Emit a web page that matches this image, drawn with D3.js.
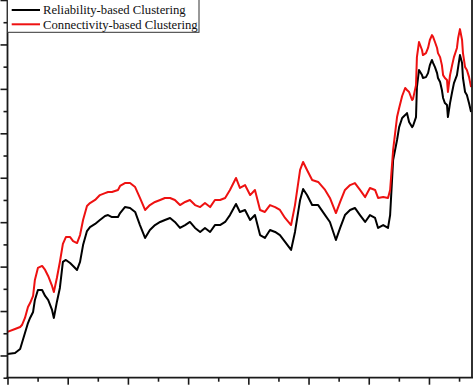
<!DOCTYPE html>
<html>
<head>
<meta charset="utf-8">
<script src="https://cdn.jsdelivr.net/npm/d3@7"></script>
<style>
html,body{margin:0;padding:0;background:#fff;}
svg{display:block;}
</style>
</head>
<body>
<svg id="chart" width="474" height="385"></svg>
<script>
const seriesNames = ["Reliability-based Clustering", "Connectivity-based Clustering"];
const seriesColors = ["#000000", "#ee1111"];

const steps = [0, 2.5, 4.2, 4.8, 5.8, 6.8, 7.5, 8.5, 9.1, 10.1,
 11.5, 12.5, 13.5, 14.8, 15.4, 16.4, 17.4, 18.4, 19.4, 20.8,
 21.8, 23.1, 24.1, 25.1, 26.4, 27.4, 29.1, 30.7, 32.4, 33.4,
 34.7, 36.7, 37.4, 39.0, 40.7, 42.4, 44.0, 45.7, 47.3, 49.0,
 50.7, 52.3, 54.0, 55.6, 57.3, 59.0, 60.6, 62.3, 64.0, 65.6,
 67.3, 68.9, 70.6, 72.3, 73.9, 75.9, 77.2, 78.9, 80.6, 82.2,
 83.9, 85.5, 87.2, 88.9, 90.5, 92.2, 94.2, 95.5, 97.2, 98.2,
 99.5, 101.2, 103.2, 105.5, 107.1, 109.1, 110.5, 112.1, 113.8, 115.4,
 117.1, 118.8, 120.4, 122.1, 123.1, 124.8, 126.4, 127.1, 128.1, 129.4,
 130.1, 131.1, 132.1, 132.7, 133.4, 134.4, 134.7, 135.7, 136.0, 136.7,
 137.7, 138.0, 139.0, 139.7, 140.3, 141.0, 141.4, 142.0, 142.7, 143.0,
 143.7, 144.3, 144.7, 145.3, 146.0, 146.3, 147.0, 147.7, 148.3, 149.3,
 149.7, 150.3, 151.0, 151.3, 152.0, 152.6, 153.3, 154.0];

const reliability = [10.7, 11.1, 12.9, 15.6, 20.1, 24.6, 26.9, 29.6, 35.0, 39.5,
 39.5, 36.8, 35.0, 30.5, 26.9, 34.1, 40.4, 52.1, 53.0, 51.6,
 50.3, 48.5, 52.1, 59.7, 66.0, 67.8, 69.2, 71.0, 72.8, 73.2,
 72.3, 72.3, 74.1, 76.8, 76.4, 74.6, 68.7, 62.9, 66.5, 68.7,
 70.1, 71.0, 71.9, 70.1, 67.4, 68.7, 70.1, 67.4, 65.6, 67.4,
 65.6, 68.7, 68.7, 70.1, 73.2, 78.2, 74.6, 75.5, 71.0, 73.2,
 64.2, 62.9, 66.5, 65.6, 64.2, 61.1, 57.5, 65.6, 80.0, 84.9,
 82.2, 77.7, 77.7, 73.2, 70.1, 62.0, 67.4, 73.2, 75.5, 76.4,
 73.2, 70.1, 73.2, 71.9, 67.4, 68.7, 67.4, 73.2, 98.0, 107.0,
 112.8, 116.9, 118.2, 119.1, 115.1, 112.8, 113.3, 117.3, 130.8, 138.5,
 136.2, 134.9, 135.3, 137.1, 140.7, 143.0, 141.6, 139.8, 137.1, 134.9,
 133.1, 129.5, 125.9, 123.6, 122.7, 117.3, 123.6, 128.6, 132.6, 136.2,
 139.8, 145.2, 141.6, 134.9, 128.6, 127.2, 123.6, 119.6];

const connectivity = [20.6, 21.9, 22.8, 23.7, 26.9, 31.8, 33.6, 36.8, 44.0, 49.4,
 50.3, 48.5, 45.8, 41.3, 38.6, 44.9, 52.1, 60.2, 63.3, 63.3,
 61.5, 60.6, 64.2, 71.0, 77.3, 78.6, 80.0, 82.2, 83.1, 83.6,
 83.6, 84.5, 86.3, 87.6, 87.6, 85.8, 80.9, 75.5, 77.7, 79.1,
 80.0, 80.9, 80.9, 80.0, 77.7, 79.1, 80.0, 77.7, 76.8, 78.6,
 76.8, 80.0, 80.0, 80.9, 84.5, 89.9, 85.4, 86.7, 82.2, 84.5,
 75.5, 74.6, 77.7, 76.8, 75.5, 71.9, 68.7, 77.7, 93.5, 97.1,
 93.5, 89.0, 88.1, 84.5, 80.9, 74.1, 79.1, 84.5, 86.7, 87.6,
 84.5, 81.3, 85.4, 84.5, 80.9, 81.3, 80.9, 84.5, 102.5, 117.3,
 121.4, 126.8, 130.4, 129.5, 128.6, 125.0, 125.4, 131.7, 144.3, 151.1,
 147.5, 145.2, 146.1, 148.4, 152.0, 154.2, 153.3, 151.1, 148.4, 146.1,
 144.3, 140.7, 136.2, 134.9, 134.0, 128.6, 136.2, 140.7, 144.3, 148.4,
 152.9, 156.9, 152.0, 146.1, 139.8, 138.5, 135.4, 130.8];

const xMajorTicks = [0, 20, 40, 60, 80, 100, 120, 140];
const xMinorTicks = [10, 30, 50, 70, 90, 110, 130, 150];
const yMajorTicks = [10, 30, 50, 70, 90, 110, 130, 150, 170];
const yMinorTicks = [0, 20, 40, 60, 80, 100, 120, 140, 160];

const svg = d3.select("#chart");
const mLeft = 7.5, mRight = 472, mTop = 0, mBottom = 377.7;

const x = d3.scaleLinear().domain([0, 154.3]).range([mLeft, mRight]);
const y = d3.scaleLinear().domain([0, 170]).range([mBottom, mTop]);

const axFmt = () => "";
function styleAxis(g){
  g.select(".domain").remove();
  g.selectAll("line").attr("stroke", "#1a1a1a").attr("stroke-width", 1.6);
  g.selectAll("text").remove();
}
svg.append("g").attr("transform", `translate(0,${mBottom})`)
  .call(d3.axisBottom(x).tickValues(xMajorTicks).tickSize(7).tickFormat(axFmt)).call(styleAxis);
svg.append("g").attr("transform", `translate(0,${mBottom})`)
  .call(d3.axisBottom(x).tickValues(xMinorTicks).tickSize(4).tickFormat(axFmt)).call(styleAxis);
svg.append("g").attr("transform", `translate(${mLeft},0)`)
  .call(d3.axisLeft(y).tickValues(yMajorTicks).tickSize(7).tickFormat(axFmt)).call(styleAxis);
svg.append("g").attr("transform", `translate(${mLeft},0)`)
  .call(d3.axisLeft(y).tickValues(yMinorTicks).tickSize(4).tickFormat(axFmt)).call(styleAxis);

const data = [reliability, connectivity];
const line = d3.line().x((d, i) => x(steps[i])).y(d => y(d)).curve(d3.curveLinear);
svg.append("g").selectAll("path").data(data).join("path")
  .attr("d", d => line(d))
  .attr("fill", "none")
  .attr("stroke", (d, i) => seriesColors[i])
  .attr("stroke-width", 2)
  .attr("stroke-linejoin", "round");

svg.append("line").attr("x1", mLeft).attr("x2", mLeft).attr("y1", 0).attr("y2", mBottom + 0.8)
  .attr("stroke", "#1a1a1a").attr("stroke-width", 1.8);
svg.append("line").attr("x1", mLeft - 0.9).attr("x2", mRight + 1).attr("y1", mBottom).attr("y2", mBottom)
  .attr("stroke", "#1a1a1a").attr("stroke-width", 1.8);
svg.append("line").attr("x1", mRight).attr("x2", mRight).attr("y1", 0).attr("y2", mBottom)
  .attr("stroke", "#1a1a1a").attr("stroke-width", 1.8);

const lg = svg.append("g");
lg.append("rect").attr("x", mLeft).attr("y", -2).attr("width", 199 - mLeft).attr("height", 34.3)
  .attr("fill", "#fff").attr("stroke", "#333").attr("stroke-width", 1);
const legY = [10, 24.3];
seriesNames.forEach((name, i) => {
  lg.append("line").attr("x1", 11.7).attr("x2", 40).attr("y1", legY[i]).attr("y2", legY[i])
    .attr("stroke", seriesColors[i]).attr("stroke-width", 2);
  lg.append("text").attr("x", 43).attr("y", legY[i] + 4.3)
    .attr("font-family", "'Liberation Serif', 'Times New Roman', serif")
    .attr("font-size", 12.7).attr("fill", "#111").text(name);
});
</script>
</body>
</html>
